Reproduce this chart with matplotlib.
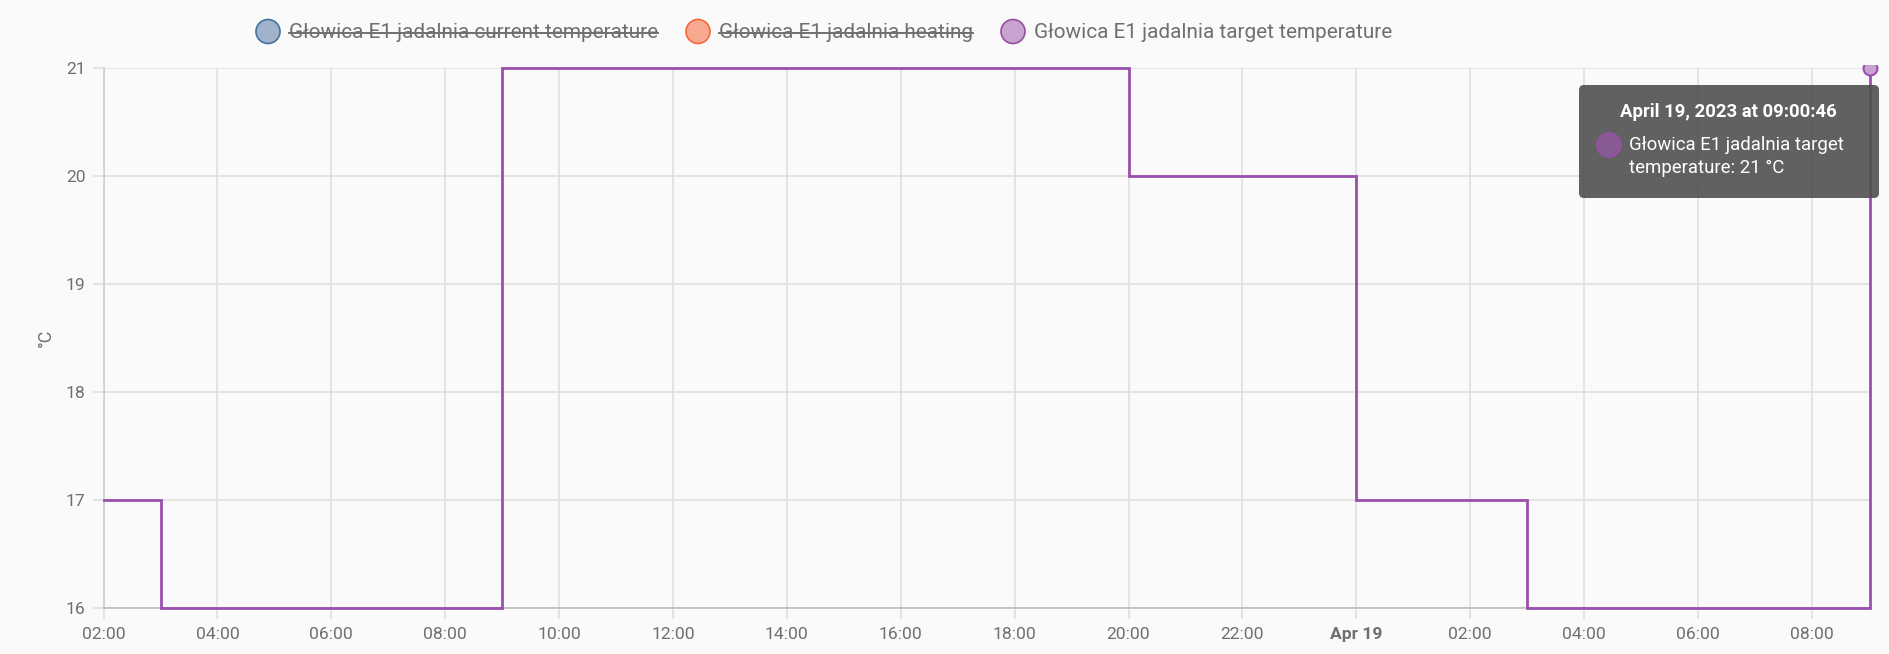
import matplotlib
matplotlib.use("Agg")
import matplotlib.pyplot as plt
from matplotlib.patches import Circle, FancyBboxPatch
from matplotlib.transforms import Bbox, TransformedBbox
import pandas as pd

# ---- data ----
times = ["2023-04-18 02:00:00", "2023-04-18 03:00:00", "2023-04-18 09:00:00",
         "2023-04-18 20:00:00", "2023-04-19 00:00:00", "2023-04-19 03:00:00",
         "2023-04-19 09:00:46"]
target = [17, 16, 21, 20, 17, 16, 21]
legend_labels = ["Głowica E1 jadalnia current temperature",
                 "Głowica E1 jadalnia heating",
                 "Głowica E1 jadalnia target temperature"]
legend_hidden = [True, True, False]
yticks = [16, 17, 18, 19, 20, 21]
tooltip_title = "April 19, 2023 at 09:00:46"
tooltip_body = ["Głowica E1 jadalnia target", "temperature: 21 °C"]

plt.rcParams['font.family'] = ['Roboto', 'DejaVu Sans']
TXT = '#6f6f6f'
GRID = '#e0e0e0'
LINE = '#9b4fac'
BG = '#fafafa'

W, H = 1889, 654
fig = plt.figure(figsize=(W / 100, H / 100), dpi=100, facecolor=BG)
left, right, top, bottom = 103.6, 1869.5, 67.5, 607.5
ax = fig.add_axes([left / W, 1 - bottom / H, (right - left) / W, (bottom - top) / H])
ax.set_facecolor(BG)

t = pd.to_datetime(times)
ax.step(t, target, where='post', color=LINE, lw=2.0, zorder=3,
        solid_joinstyle='miter', clip_on=False)
mk, = ax.plot([t[-1]], [target[-1]], 'o', ms=10, mfc='#c9a3d0', mec=LINE, mew=1.5,
              zorder=4)
mk.set_clip_box(TransformedBbox(Bbox([[0, -1], [1.1, 1.0 + 3 / 540]]), ax.transAxes))

ax.set_xlim(t[0], t[-1])
ax.set_ylim(16, 21)
ax.set_yticks(yticks)
ax.set_yticklabels([str(v) for v in yticks])

xt = pd.date_range("2023-04-18 02:00", "2023-04-19 08:00", freq="2h")
ax.set_xticks(xt)
xl = ["Apr 19" if d.hour == 0 else d.strftime("%H:%M") for d in xt]
ax.set_xticklabels(xl)
for lab in ax.get_xticklabels():
    if lab.get_text() == "Apr 19":
        lab.set_fontweight('bold')

ax.grid(True, color=GRID, lw=1.2, zorder=0)
for s in ['top', 'right']:
    ax.spines[s].set_visible(False)
ax.spines['left'].set_color('#cfcfcf')
ax.spines['bottom'].set_color('#bdbdbd')
ax.spines['left'].set_linewidth(1.2)
ax.spines['bottom'].set_linewidth(1.2)
ax.tick_params(axis='both', colors=GRID, labelcolor=TXT, labelsize=12.6,
               length=8, width=1.2)
ax.tick_params(axis='x', pad=6)
ax.tick_params(axis='y', pad=5)
ax.set_ylabel("°C", color=TXT, fontsize=13, labelpad=8)

# ---- overlay in pixel coordinates for legend / tooltip ----
ov = fig.add_axes([0, 0, 1, 1], facecolor='none')
ov.set_xlim(0, W)
ov.set_ylim(H, 0)
ov.axis('off')

fig.canvas.draw()
r = fig.canvas.get_renderer()


def fit(txt, width_px):
    fs = txt.get_fontsize()
    w = txt.get_window_extent(renderer=r).width
    txt.set_fontsize(fs * width_px / w)
    return txt.get_fontsize()


leg_fc = ['#a0b3cb', '#f9a98f', '#c9a3d0']
leg_ec = ['#44739e', '#f4673b', '#984ea3']
leg_x = [268, 698, 1013]
leg_y = 31.5
probe = ov.text(0, 0, legend_labels[2], fontsize=14)
leg_fs = fit(probe, 360)
probe.remove()
for i, lab in enumerate(legend_labels):
    ov.add_patch(Circle((leg_x[i], leg_y), 12, fc=leg_fc[i], ec=leg_ec[i], lw=1.2))
    tx = ov.text(leg_x[i] + 21, leg_y + 0.5, lab, color=TXT, fontsize=leg_fs,
                 va='center', ha='left')
    if legend_hidden[i]:
        bb = tx.get_window_extent(renderer=r)
        ov.plot([bb.x0, bb.x1], [leg_y + 1, leg_y + 1], color=TXT, lw=1.4)

# tooltip
ov.add_patch(FancyBboxPatch((1579 + 5, 85 + 5), 300 - 10, 113 - 10,
                            boxstyle="round,pad=5", fc='#505050', ec='none',
                            alpha=0.9, zorder=5))
tt = ov.text(1728.5, 112, tooltip_title, color='white', fontsize=14, fontweight='bold',
             ha='center', va='center', zorder=6)
fit(tt, 217)
ov.add_patch(Circle((1609, 145), 12, fc='#875a93', ec='#9b4fac', lw=1.2, zorder=6))
b1 = ov.text(1629, 145, tooltip_body[0], color='white', fontsize=14,
             ha='left', va='center', zorder=6)
bfs = fit(b1, 217)
ov.text(1629, 168, tooltip_body[1], color='white', fontsize=bfs,
        ha='left', va='center', zorder=6)

fig.savefig("out.png", dpi=100, facecolor=BG)
